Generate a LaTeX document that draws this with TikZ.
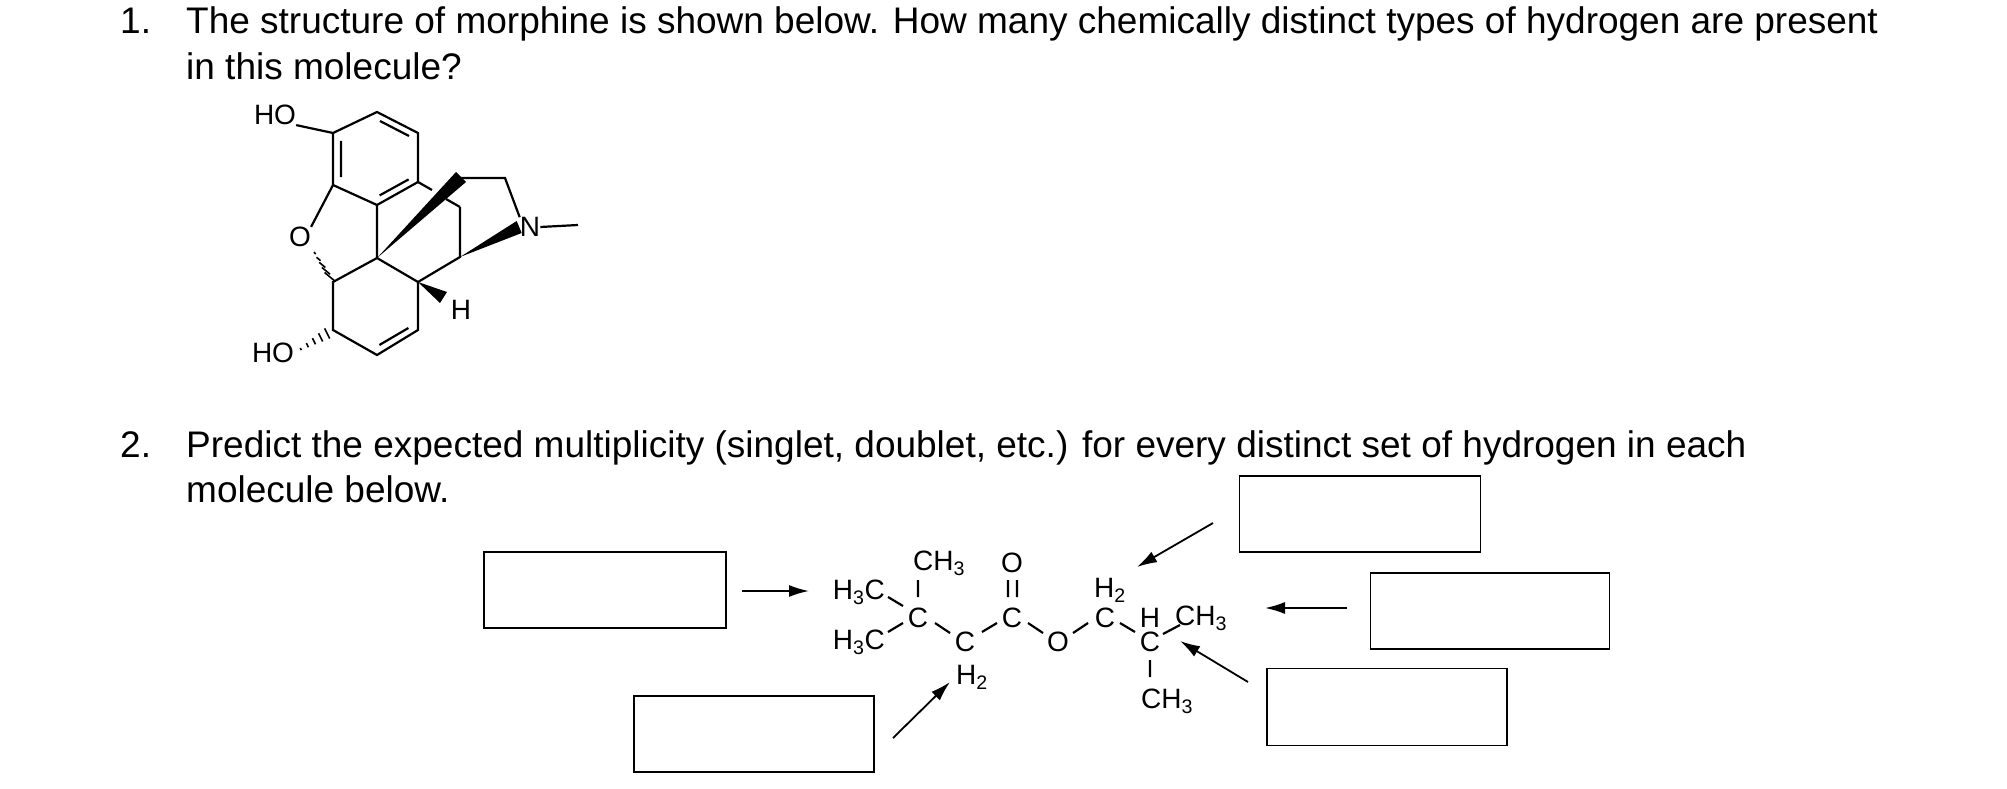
\documentclass[tikz,border=0pt]{standalone}
\usepackage{fontspec}
\setmainfont{Liberation Sans}
\usetikzlibrary{arrows.meta,calc}
\begin{document}
\begin{tikzpicture}[x=1pt,y=-1pt,
  bnd/.style={line width=2.2pt},
  lbl/.style={font=\fontsize{28}{30}\selectfont, inner sep=0pt},
  qtext/.style={font=\fontsize{37}{42}\selectfont, inner sep=0pt, anchor=base west},
  ansbox/.style={draw, line width=1.6pt},
  arr/.style={line width=1.8pt, -{Latex[length=20pt,width=12pt]}}]
\useasboundingbox (0,0) rectangle (2007,789);
% question text
\node[qtext] (n1) at (120,34) {1.};
\node[qtext] (t1) at (186,34) {The structure of morphine is shown below. How many chemically distinct types of hydrogen are present};
\node[qtext] (t1b) at (186,80) {in this molecule?};
\node[qtext] (n2) at (120,457) {2.};
\node[qtext] (t2) at (186,457) {Predict the expected multiplicity (singlet, doublet, etc.) for every distinct set of hydrogen in each};
\node[qtext] (t2b) at (186,502) {molecule below.};
% morphine
\coordinate (c1) at (333,133); \coordinate (c2) at (377,112); \coordinate (c3) at (418,133);
\coordinate (c4) at (418,182); \coordinate (c5) at (377,205); \coordinate (c6) at (333,185);
\coordinate (co) at (333,282); \coordinate (cq) at (377,258); \coordinate (coh) at (333,330);
\coordinate (ca) at (377,355); \coordinate (cb) at (418,330); \coordinate (ch) at (418,282);
\coordinate (cn) at (460,257); \coordinate (cu) at (460,207); \coordinate (cw) at (460,178);
\coordinate (cr) at (505,178);
\node[lbl] (ho1) at (275,115) {HO};
\node[lbl] (oring) at (300,237) {O};
\node[lbl] (ho2) at (273,353) {HO};
\node[lbl] (nn) at (530,227) {N};
\node[lbl] (hh) at (461,310) {H};
\coordinate (me) at (578,225);
\draw[bnd] (c1)--(c2)--(c3)--(c4)--(c5)--(c6)--cycle;
\draw[bnd] (341,141)--(341,177) (380,121)--(409,136) (408.6,179.4)--(379.6,195.4);
\draw[bnd] (c1)--(ho1.south east);
\draw[bnd] (c6)--(oring.north east);
\draw[bnd] (c5)--(cq) (cq)--(co)--(coh)--(ca)--(cb)--(ch)--(cq);
\draw[bnd] (379.4,345)--(408.4,328);
\draw[bnd] (ch)--(cn)--(cu);
\draw[bnd] (c4)--(432,190) (446,199)--(cu);
\draw[bnd] (cw)--(cr)--(nn.north west);
\draw[bnd] (nn.east)--(me);
\fill (cq) -- ($(cw)+(-4,-6)$) -- ($(cw)+(6,4)$) -- cycle;
\fill (cn) -- ($(nn.west)+(-3,-6)$) -- ($(nn.west)+(2,6)$) -- cycle;
\fill (ch) -- (447,292) -- (440,303) -- cycle;
% hashed bonds
\foreach \t in {0.15,0.32,0.49,0.66,0.83}{
  \draw[line width=1.6pt] ($(co)!\t!(oring.south east)+(-6*\t+6,-5*\t+5)$) -- ($(co)!\t!(oring.south east)-(-6*\t+6,-5*\t+5)$);
}
\foreach \t in {0.15,0.32,0.49,0.66,0.83}{
  \draw[line width=1.6pt] ($(coh)!\t!(ho2.east)+(-3*\t+3,-6*\t+6)$) -- ($(coh)!\t!(ho2.east)-(-3*\t+3,-6*\t+6)$);
}
% ester molecule
\node[lbl,anchor=east] (h3ca) at (885,592) {H\textsubscript{3}C};
\node[lbl,anchor=east] (h3cb) at (885,642) {H\textsubscript{3}C};
\node[lbl] (cc) at (918,618) {C};
\node[lbl] (ch3t) at (939,563) {CH\textsubscript{3}};
\node[lbl] (cm) at (965,642) {C};
\node[lbl] (h2a) at (972,677) {H\textsubscript{2}};
\node[lbl] (ck) at (1012,618) {C};
\node[lbl] (ok) at (1012,563) {O};
\node[lbl] (oe) at (1058,642) {O};
\node[lbl] (ce) at (1105,618) {C};
\node[lbl] (h2b) at (1110,590) {H\textsubscript{2}};
\node[lbl] (cz) at (1150,642) {C};
\node[lbl] (hz) at (1150,618) {H};
\node[lbl,anchor=west] (ch3r) at (1175,618) {CH\textsubscript{3}};
\node[lbl] (ch3b) at (1167,701) {CH\textsubscript{3}};
\draw[bnd] (888,597)--(903,606) (888,632)--(903,623) (918,580)--(918,597)
  (935,623)--(950,633) (982,632)--(997,623) (1008,580)--(1008,597) (1017,580)--(1017,597)
  (1028,623)--(1043,633) (1073,633)--(1088,623) (1120,623)--(1135,632)
  (1163,634)--(1180,625) (1150,660)--(1150,677);
% boxes
\node[ansbox, minimum width=242pt, minimum height=76pt] (b1) at (605,590) {};
\node[ansbox, minimum width=240pt, minimum height=76pt] (b2) at (754,734) {};
\node[ansbox, minimum width=241pt, minimum height=76pt] (b3) at (1360,514) {};
\node[ansbox, minimum width=239pt, minimum height=76pt] (b4) at (1490,611) {};
\node[ansbox, minimum width=240pt, minimum height=77pt] (b5) at (1387,707) {};
\coordinate (a1s) at (742,591); \coordinate (a1e) at (809,591);
\coordinate (a2s) at (893,738); \coordinate (a2e) at (950,682);
\coordinate (a3s) at (1213,523); \coordinate (a3e) at (1137,567);
\coordinate (a4s) at (1347,608); \coordinate (a4e) at (1265,608);
\coordinate (a5s) at (1248,682); \coordinate (a5e) at (1180,641);
\draw[arr] (a1s)--(a1e);
\draw[arr] (a2s)--(a2e);
\draw[arr] (a3s)--(a3e);
\draw[arr] (a4s)--(a4e);
\draw[arr] (a5s)--(a5e);
\end{tikzpicture}
\end{document}
